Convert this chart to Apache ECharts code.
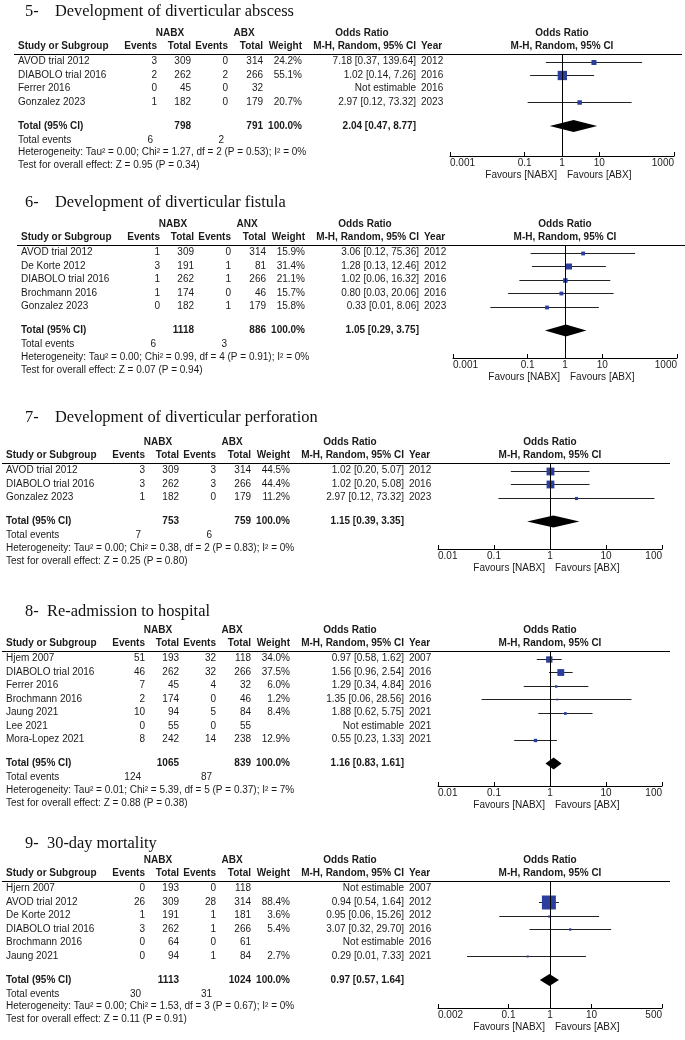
<!DOCTYPE html>
<html><head><meta charset="utf-8">
<script src="https://cdn.jsdelivr.net/npm/echarts@6/dist/echarts.min.js"></script>
<style>html,body{margin:0;padding:0;background:#fff}#c{width:685px;height:1040px}</style>
</head><body><div id="c"></div><script>
// ---------------- DATA ----------------
const panelNum = ['5-', '6-', '7-', '8-', '9-'];
const panelTitle = ['Development of diverticular abscess', 'Development of diverticular fistula',
  'Development of diverticular perforation', 'Re-admission to hospital', '30-day mortality'];
const groupA = ['NABX', 'NABX', 'NABX', 'NABX', 'NABX'];
const groupB = ['ABX', 'ANX', 'ABX', 'ABX', 'ABX'];
const favourLeft = 'Favours [NABX]';
const favourRight = 'Favours [ABX]';

// 5- abscess
const absStudy = ['AVOD trial 2012', 'DIABOLO trial 2016', 'Ferrer 2016', 'Gonzalez 2023'];
const absEvA = [3, 2, 0, 1];
const absTotA = [309, 262, 45, 182];
const absEvB = [0, 2, 0, 0];
const absTotB = [314, 266, 32, 179];
const absWeight = [24.2, 55.1, null, 20.7];
const absOR = [7.18, 1.02, null, 2.97];
const absLo = [0.37, 0.14, null, 0.12];
const absHi = [139.64, 7.26, null, 73.32];
const absYear = [2012, 2016, 2016, 2023];

// 6- fistula
const fisStudy = ['AVOD trial 2012', 'De Korte 2012', 'DIABOLO trial 2016', 'Brochmann 2016', 'Gonzalez 2023'];
const fisEvA = [1, 3, 1, 1, 0];
const fisTotA = [309, 191, 262, 174, 182];
const fisEvB = [0, 1, 1, 0, 1];
const fisTotB = [314, 81, 266, 46, 179];
const fisWeight = [15.9, 31.4, 21.1, 15.7, 15.8];
const fisOR = [3.06, 1.28, 1.02, 0.80, 0.33];
const fisLo = [0.12, 0.13, 0.06, 0.03, 0.01];
const fisHi = [75.36, 12.46, 16.32, 20.06, 8.06];
const fisYear = [2012, 2012, 2016, 2016, 2023];

// 7- perforation
const perStudy = ['AVOD trial 2012', 'DIABOLO trial 2016', 'Gonzalez 2023'];
const perEvA = [3, 3, 1];
const perTotA = [309, 262, 182];
const perEvB = [3, 3, 0];
const perTotB = [314, 266, 179];
const perWeight = [44.5, 44.4, 11.2];
const perOR = [1.02, 1.02, 2.97];
const perLo = [0.20, 0.20, 0.12];
const perHi = [5.07, 5.08, 73.32];
const perYear = [2012, 2016, 2023];

// 8- re-admission
const readStudy = ['Hjem 2007', 'DIABOLO trial 2016', 'Ferrer 2016', 'Brochmann 2016', 'Jaung 2021', 'Lee 2021', 'Mora-Lopez 2021'];
const readEvA = [51, 46, 7, 2, 10, 0, 8];
const readTotA = [193, 262, 45, 174, 94, 55, 242];
const readEvB = [32, 32, 4, 0, 5, 0, 14];
const readTotB = [118, 266, 32, 46, 84, 55, 238];
const readWeight = [34.0, 37.5, 6.0, 1.2, 8.4, null, 12.9];
const readOR = [0.97, 1.56, 1.29, 1.35, 1.88, null, 0.55];
const readLo = [0.58, 0.96, 0.34, 0.06, 0.62, null, 0.23];
const readHi = [1.62, 2.54, 4.84, 28.56, 5.75, null, 1.33];
const readYear = [2007, 2016, 2016, 2016, 2021, 2021, 2021];

// 9- 30-day mortality
const morStudy = ['Hjern 2007', 'AVOD trial 2012', 'De Korte 2012', 'DIABOLO trial 2016', 'Brochmann 2016', 'Jaung 2021'];
const morEvA = [0, 26, 1, 3, 0, 0];
const morTotA = [193, 309, 191, 262, 64, 94];
const morEvB = [0, 28, 1, 1, 0, 1];
const morTotB = [118, 314, 181, 266, 61, 84];
const morWeight = [null, 88.4, 3.6, 5.4, null, 2.7];
const morOR = [null, 0.94, 0.95, 3.07, null, 0.29];
const morLo = [null, 0.54, 0.06, 0.32, null, 0.01];
const morHi = [null, 1.64, 15.26, 29.70, null, 7.33];
const morYear = [2007, 2012, 2012, 2016, 2016, 2021];

// totals per panel
const totalTotA = [798, 1118, 753, 1065, 1113];
const totalTotB = [791, 886, 759, 839, 1024];
const totalOR = [2.04, 1.05, 1.15, 1.16, 0.97];
const totalLo = [0.47, 0.29, 0.39, 0.83, 0.57];
const totalHi = [8.77, 3.75, 3.35, 1.61, 1.64];
const totalEvA = [6, 6, 7, 124, 30];
const totalEvB = [2, 3, 6, 87, 31];
const hetText = [
  'Heterogeneity: Tau\u00B2 = 0.00; Chi\u00B2 = 1.27, df = 2 (P = 0.53); I\u00B2 = 0%',
  'Heterogeneity: Tau\u00B2 = 0.00; Chi\u00B2 = 0.99, df = 4 (P = 0.91); I\u00B2 = 0%',
  'Heterogeneity: Tau\u00B2 = 0.00; Chi\u00B2 = 0.38, df = 2 (P = 0.83); I\u00B2 = 0%',
  'Heterogeneity: Tau\u00B2 = 0.01; Chi\u00B2 = 5.39, df = 5 (P = 0.37); I\u00B2 = 7%',
  'Heterogeneity: Tau\u00B2 = 0.00; Chi\u00B2 = 1.53, df = 3 (P = 0.67); I\u00B2 = 0%'];
const testText = [
  'Test for overall effect: Z = 0.95 (P = 0.34)',
  'Test for overall effect: Z = 0.07 (P = 0.94)',
  'Test for overall effect: Z = 0.25 (P = 0.80)',
  'Test for overall effect: Z = 0.88 (P = 0.38)',
  'Test for overall effect: Z = 0.11 (P = 0.91)'];

// axis ticks
const axisTicks = [[0.001, 0.1, 1, 10, 1000], [0.001, 0.1, 1, 10, 1000], [0.01, 0.1, 1, 10, 100], [0.01, 0.1, 1, 10, 100], [0.002, 0.1, 1, 10, 500]];
const axisTickLabels = [['0.001', '0.1', '1', '10', '1000'], ['0.001', '0.1', '1', '10', '1000'], ['0.01', '0.1', '1', '10', '100'], ['0.01', '0.1', '1', '10', '100'], ['0.002', '0.1', '1', '10', '500']];

const panels = [
  {study: absStudy, evA: absEvA, totA: absTotA, evB: absEvB, totB: absTotB, w: absWeight, or: absOR, lo: absLo, hi: absHi, year: absYear},
  {study: fisStudy, evA: fisEvA, totA: fisTotA, evB: fisEvB, totB: fisTotB, w: fisWeight, or: fisOR, lo: fisLo, hi: fisHi, year: fisYear},
  {study: perStudy, evA: perEvA, totA: perTotA, evB: perEvB, totB: perTotB, w: perWeight, or: perOR, lo: perLo, hi: perHi, year: perYear},
  {study: readStudy, evA: readEvA, totA: readTotA, evB: readEvB, totB: readTotB, w: readWeight, or: readOR, lo: readLo, hi: readHi, year: readYear},
  {study: morStudy, evA: morEvA, totA: morTotA, evB: morEvB, totB: morTotB, w: morWeight, or: morOR, lo: morLo, hi: morHi, year: morYear}
];

// ---------------- LAYOUT ----------------
const L = {
  dx: [12, 15, 0, 0, 0],
  lineY: [54, 245, 463, 651, 881],
  axisY: [156, 358, 549, 786, 1008],
  titleY: [12, 203, 418, 612, 844],
  titleX2: [55, 55, 55, 47, 47],
  row: 13.5,
  plotLeft: 438, plotW: 224,
  colName: 6, colEvA: 145, colTotA: 179, colEvB: 216, colTotB: 251, colW: 290, colOR: 404, colYear: 409,
  hdrA: 158, hdrB: 232, hdrOR: 350,
  lineX1: 2, lineX2: 670
};
const FONT = '"Liberation Sans", Arial, sans-serif';
const F = '10px ' + FONT, FB = 'bold 10px ' + FONT;
const TF = '16.4px "Liberation Serif", "Times New Roman", serif';
const TXT = '#1a1a1a';
const BLUE = '#2B3E9E';
const lg = Math.log10;

const chart = echarts.init(document.getElementById('c'));
const grids = [], xAxes = [], yAxes = [], series = [];
panels.forEach((P, p) => {
  const dx = L.dx[p];
  const n = P.study.length;
  const yMin = -7.5 / L.row;
  const yMax = yMin + (L.axisY[p] - L.lineY[p]) / L.row;
  grids.push({left: L.plotLeft + dx, width: L.plotW, top: L.lineY[p], height: L.axisY[p] - L.lineY[p], containLabel: false, outerBoundsMode: 'none'});
  const tk = axisTicks[p].map(lg);
  const labs = axisTickLabels[p];
  xAxes.push({
    type: 'value', gridIndex: p, min: tk[0], max: tk[tk.length - 1], position: 'bottom',
    splitLine: {show: false},
    axisLine: {show: true, onZero: false, lineStyle: {color: '#000', width: 1}},
    axisTick: {show: true, inside: true, length: 4, customValues: tk, lineStyle: {color: '#000', width: 1}},
    axisLabel: {customValues: tk, margin: 2, fontSize: 10, fontFamily: FONT, color: TXT,
      showMinLabel: true, showMaxLabel: true, alignMinLabel: 'left', alignMaxLabel: 'right',
      formatter: v => { for (let i = 0; i < tk.length; i++) if (Math.abs(tk[i] - v) < 1e-6) return labs[i]; return ''; }}
  });
  yAxes.push({type: 'value', gridIndex: p, inverse: true, min: yMin, max: yMax, show: false});
  const sd = [];
  for (let i = 0; i < n; i++) if (P.or[i] != null) sd.push([lg(P.lo[i]), lg(P.hi[i]), lg(P.or[i]), i, P.w[i]]);
  series.push({
    type: 'custom', xAxisIndex: p, yAxisIndex: p, data: sd, silent: true, clip: false,
    encode: {x: [0, 1, 2], y: 3},
    renderItem: (params, api) => {
      const v = api.value(3);
      const y = Math.round(api.coord([0, v])[1]) + 0.5;
      const x1 = api.coord([api.value(0), v])[0];
      const x2 = api.coord([api.value(1), v])[0];
      const xc = api.coord([api.value(2), v])[0];
      const s = 1.6 + 0.14 * api.value(4);
      return {type: 'group', children: [
        {type: 'line', shape: {x1: x1, y1: y, x2: x2, y2: y}, style: {stroke: '#222', lineWidth: 1}},
        {type: 'rect', shape: {x: xc - s / 2, y: y - s / 2, width: s, height: s}, style: {fill: BLUE}}
      ]};
    },
    markLine: {silent: true, symbol: ['none', 'none'], label: {show: false}, animation: false,
      lineStyle: {color: '#000', width: 1, type: 'solid'}, emphasis: {disabled: true},
      data: [{xAxis: 0}]}
  });
  const totIdx = n - 1 + 24 / L.row;
  series.push({
    type: 'custom', xAxisIndex: p, yAxisIndex: p, silent: true, clip: false,
    data: [[lg(totalLo[p]), lg(totalHi[p]), lg(totalOR[p]), totIdx]],
    encode: {x: [0, 1, 2], y: 3},
    renderItem: (params, api) => {
      const v = api.value(3);
      const pl = api.coord([api.value(0), v]), pr = api.coord([api.value(1), v]), pc = api.coord([api.value(2), v]);
      const h = 6;
      return {type: 'polygon', shape: {points: [[pl[0], pc[1]], [pc[0], pc[1] - h], [pr[0], pc[1]], [pc[0], pc[1] + h]]}, style: {fill: '#000'}};
    }
  });
});

chart.setOption({animation: false, backgroundColor: '#fff', grid: grids, xAxis: xAxes, yAxis: yAxes, series: series});

// ---------------- TEXT (table) ----------------
const g = [];
function T(x, y, text, opt) {
  opt = opt || {};
  const al = opt.align || 'left';
  g.push({type: 'text', x: x, y: y, silent: true, style: {text: String(text), font: opt.font || F, fill: opt.fill || TXT,
    textAlign: al, align: al, textVerticalAlign: 'middle', verticalAlign: 'middle'}});
}
function fmtOR(o, l, h) { return o.toFixed(2) + ' [' + l.toFixed(2) + ', ' + h.toFixed(2) + ']'; }

panels.forEach((P, p) => {
  const dx = L.dx[p];
  const n = P.study.length;
  const ry = v => chart.convertToPixel({yAxisIndex: p}, v);
  const cx = chart.convertToPixel({xAxisIndex: p}, 0);
  const lineY = L.lineY[p];
  T(25, L.titleY[p], panelNum[p], {font: TF, fill: '#111'});
  T(L.titleX2[p], L.titleY[p], panelTitle[p], {font: TF, fill: '#111'});
  const h1 = lineY - 21, h2 = lineY - 7.5;
  T(L.hdrA + dx, h1, groupA[p], {font: FB, align: 'center'});
  T(L.hdrB + dx, h1, groupB[p], {font: FB, align: 'center'});
  T(L.hdrOR + dx, h1, 'Odds Ratio', {font: FB, align: 'center'});
  T(cx, h1, 'Odds Ratio', {font: FB, align: 'center'});
  T(L.colName + dx, h2, 'Study or Subgroup', {font: FB});
  T(L.colEvA + dx, h2, 'Events', {font: FB, align: 'right'});
  T(L.colTotA + dx, h2, 'Total', {font: FB, align: 'right'});
  T(L.colEvB + dx, h2, 'Events', {font: FB, align: 'right'});
  T(L.colTotB + dx, h2, 'Total', {font: FB, align: 'right'});
  T(L.colW + dx, h2, 'Weight', {font: FB, align: 'right'});
  T(L.colOR + dx, h2, 'M-H, Random, 95% CI', {font: FB, align: 'right'});
  T(L.colYear + dx, h2, 'Year', {font: FB});
  T(cx, h2, 'M-H, Random, 95% CI', {font: FB, align: 'center'});
  const ly = Math.round(lineY) + 0.5;
  g.push({type: 'line', silent: true, shape: {x1: L.lineX1 + dx, y1: ly, x2: L.lineX2 + dx, y2: ly}, style: {stroke: '#000', lineWidth: 1}});
  for (let i = 0; i < n; i++) {
    const y = ry(i);
    T(L.colName + dx, y, P.study[i]);
    T(L.colEvA + dx, y, P.evA[i], {align: 'right'});
    T(L.colTotA + dx, y, P.totA[i], {align: 'right'});
    T(L.colEvB + dx, y, P.evB[i], {align: 'right'});
    T(L.colTotB + dx, y, P.totB[i], {align: 'right'});
    if (P.w[i] != null) T(L.colW + dx, y, P.w[i].toFixed(1) + '%', {align: 'right'});
    T(L.colOR + dx, y, P.or[i] != null ? fmtOR(P.or[i], P.lo[i], P.hi[i]) : 'Not estimable', {align: 'right'});
    T(L.colYear + dx, y, P.year[i]);
  }
  const tIdx = n - 1 + 24 / L.row;
  const ty = ry(tIdx);
  T(L.colName + dx, ty, 'Total (95% CI)', {font: FB});
  T(L.colTotA + dx, ty, totalTotA[p], {font: FB, align: 'right'});
  T(L.colTotB + dx, ty, totalTotB[p], {font: FB, align: 'right'});
  T(L.colW + dx, ty, '100.0%', {font: FB, align: 'right'});
  T(L.colOR + dx, ty, fmtOR(totalOR[p], totalLo[p], totalHi[p]), {font: FB, align: 'right'});
  T(L.colName + dx, ty + 14, 'Total events');
  T(L.colEvA + dx - 4, ty + 14, totalEvA[p], {align: 'right'});
  T(L.colEvB + dx - 4, ty + 14, totalEvB[p], {align: 'right'});
  T(L.colName + dx, ty + 26.5, hetText[p]);
  T(L.colName + dx, ty + 39.5, testText[p]);
  const fy = L.axisY[p] + 19;
  T(cx - 5, fy, favourLeft, {align: 'right'});
  T(cx + 5, fy, favourRight, {align: 'left'});
});

chart.setOption({graphic: {elements: g}});
</script></body></html>
